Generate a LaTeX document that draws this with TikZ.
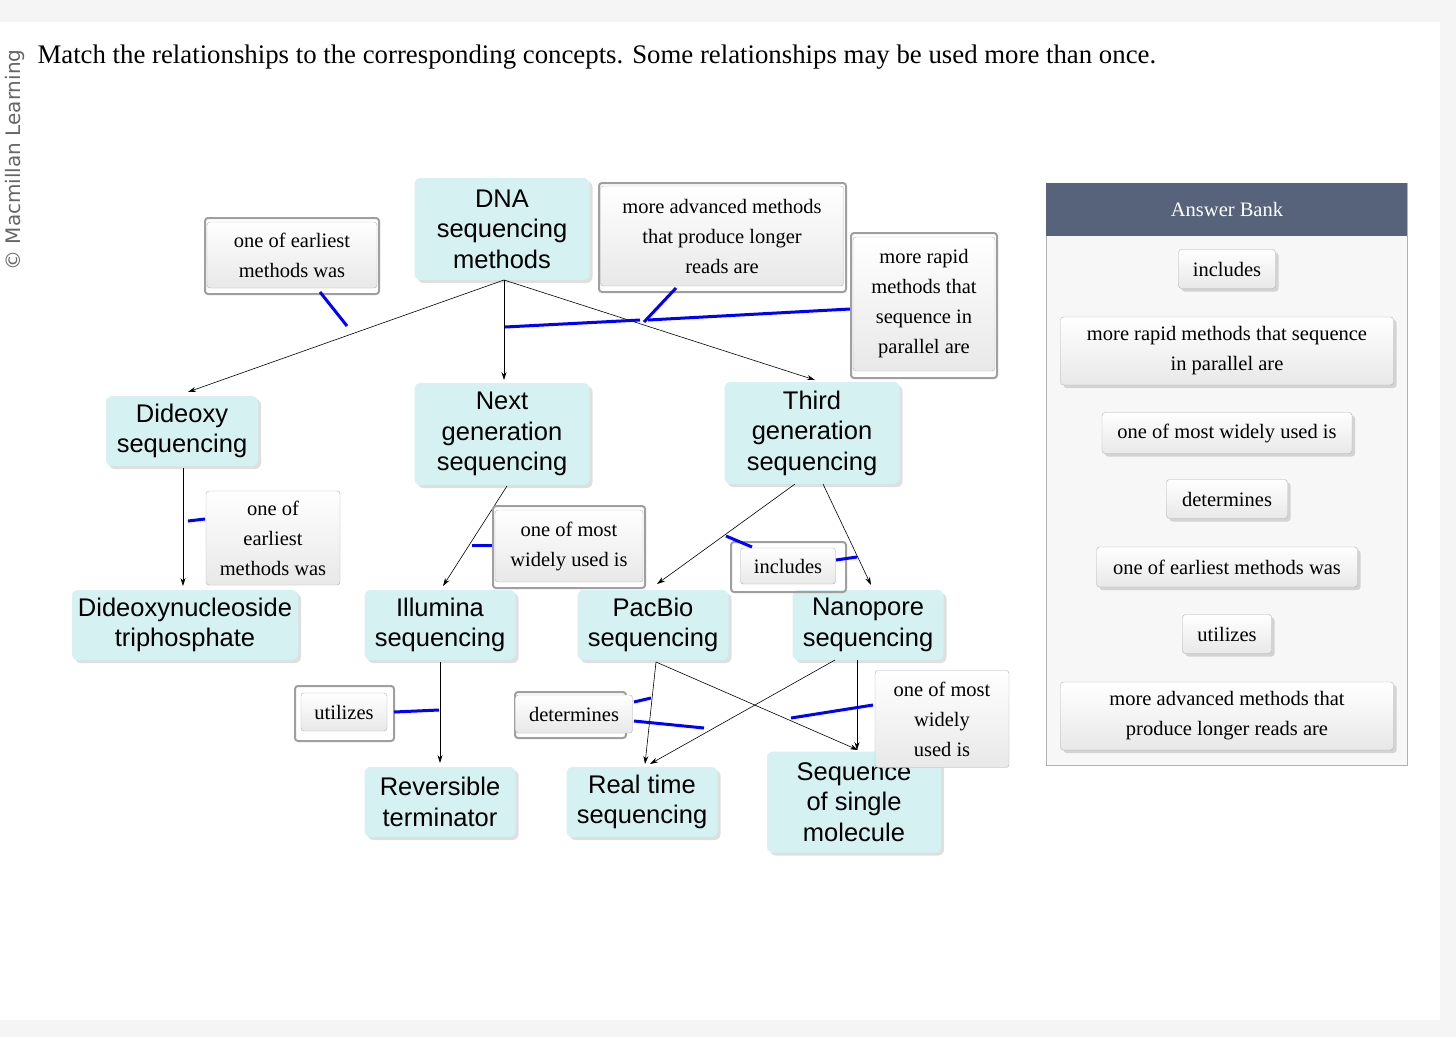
\documentclass[tikz,border=0pt]{standalone}
\usepackage{fontspec}
\setmainfont{Liberation Serif}
\newfontfamily\sansf{Liberation Sans}
\newfontfamily\dejav{DejaVu Sans}
\usetikzlibrary{shadows,arrows.meta}
\definecolor{conc}{HTML}{D5F1F1}
\definecolor{hdr}{HTML}{56637A}
\begin{document}
\begin{tikzpicture}[x=1pt,y=-1pt,
 concept/.style={draw=none,fill=conc,rounded corners=6pt,align=center,font=\sansf\fontsize{25.5}{30.5}\selectfont,drop shadow={shadow xshift=3pt,shadow yshift=-3pt,opacity=0.25},inner sep=0pt},
 lab/.style={draw=gray!60,top color=white,bottom color=gray!18,rounded corners=3pt,align=center,font=\fontsize{20.5}{30}\selectfont,inner sep=0pt},
 frame/.style={draw=gray!75,line width=2pt,rounded corners=3pt},
 bank/.style={lab,drop shadow={shadow xshift=3pt,shadow yshift=-3pt,opacity=0.3,fill=gray}},
 arr/.style={-{Stealth[length=8pt,width=5pt]},line width=0.6pt},
 ans/.style={blue,line width=3pt}]
\useasboundingbox (0,0) rectangle (1456,1037);
\fill[gray!8] (0,0) rectangle (1456,1037);
\fill[white] (0,22) rectangle (1440,1020);
\node[rotate=90,font=\dejav\fontsize{20}{22}\selectfont,text=gray!80!black] (cr) at (15,160) {© Macmillan Learning};
\node[anchor=west,font=\fontsize{26.8}{30}\selectfont] (q) at (34,57) {Match the relationships to the corresponding concepts. Some relationships may be used more than once.};
% concepts
\node[concept,minimum width=175pt,minimum height=102pt] (dna) at (502,229) {DNA\\sequencing\\methods};
\node[concept,minimum width=152pt,minimum height=70pt] (did) at (182,431) {Dideoxy\\sequencing};
\node[concept,minimum width=175pt,minimum height=102pt] (next) at (502,434) {Next\\generation\\sequencing};
\node[concept,minimum width=175pt,minimum height=102pt] (third) at (812,433) {Third\\generation\\sequencing};
\node[concept,minimum width=226pt,minimum height=70pt] (dnt) at (185,625) {Dideoxynucleoside\\triphosphate};
\node[concept,minimum width=151pt,minimum height=70pt] (ill) at (440,625) {Illumina\\sequencing};
\node[concept,minimum width=151pt,minimum height=70pt] (pac) at (653,625) {PacBio\\sequencing};
\node[concept,minimum width=151pt,minimum height=70pt] (nano) at (868,625) {Nanopore\\sequencing};
\node[concept,minimum width=151pt,minimum height=70pt] (rev) at (440,802) {Reversible\\terminator};
\node[concept,minimum width=151pt,minimum height=70pt] (rt) at (642,802) {Real time\\sequencing};
\node[concept,minimum width=174pt,minimum height=101pt] (ssm) at (854,802) {Sequence\\of single\\molecule};
% arrows
\coordinate (d0) at (504,280);
\draw[arr] (d0) -- (188,392) coordinate (e1);
\draw[arr] (d0) -- (504,380) coordinate (e2);
\draw[arr] (d0) -- (815,380) coordinate (e3);
\draw[arr] (183,468) coordinate (e4) -- (183,586) coordinate (e5);
\draw[arr] (507,486) coordinate (e6) -- (443,586) coordinate (e7);
\draw[arr] (795,484) coordinate (e8) -- (657,584) coordinate (e9);
\draw[arr] (823,484) coordinate (e10) -- (871,585) coordinate (e11);
\draw[arr] (440,662) coordinate (e12) -- (440,763) coordinate (e13);
\coordinate (p0) at (656,662);
\draw[arr] (p0) -- (645,764) coordinate (e14);
\draw[arr] (p0) -- (858,750) coordinate (e15);
\draw[arr] (835,660) coordinate (n0) -- (650,764) coordinate (e16);
\draw[arr] (857,660) coordinate (n1) -- (857,750) coordinate (e17);
% label boxes
\draw[frame] (205,218) rectangle (379,294);
\node[lab,minimum width=170pt,minimum height=66pt] (l1) at (292,255) {one of earliest\\methods was};
\draw[frame] (599,183) rectangle (846,292);
\node[lab,minimum width=243pt,minimum height=100pt] (l2) at (722,236) {more advanced methods\\that produce longer\\reads are};
\draw[frame] (851,233) rectangle (997,378);
\node[lab,minimum width=142pt,minimum height=134pt] (l3) at (924,304) {more rapid\\methods that\\sequence in\\parallel are};
\node[lab,minimum width=134pt,minimum height=94pt] (l4) at (273,538) {one of\\earliest\\methods was};
\draw[frame] (493,506) rectangle (645,588);
\node[lab,minimum width=148pt,minimum height=72pt] (l5) at (569,546) {one of most\\widely used is};
\draw[frame] (731,542) rectangle (846,592);
\node[lab,minimum width=95pt,minimum height=36pt] (l6) at (788,566) {includes};
\draw[frame] (295,686) rectangle (394,741);
\node[lab,minimum width=86pt,minimum height=38pt] (l7) at (344,712) {utilizes};
\draw[frame] (515,692) rectangle (626,738);
\node[lab,minimum width=117pt,minimum height=38pt] (l8) at (574,714) {determines};
\node[lab,minimum width=134pt,minimum height=97pt] (l9) at (942,719) {one of most\\widely\\used is};
% answer lines
\draw[ans] (320,292) -- (347,326);
\draw[ans] (505,327) -- (640,320);
\draw[ans] (648,320) -- (850,309);
\draw[ans] (644,322) -- (676,288);
\draw[ans] (188,521) -- (205,519);
\draw[ans] (472,545) -- (492,545);
\draw[ans] (726,536) -- (752,547);
\draw[ans] (836,560) -- (857,557);
\draw[ans] (394,712) -- (439,710);
\draw[ans] (634,702) -- (651,698);
\draw[ans] (634,721) -- (704,728);
\draw[ans] (791,718) -- (873,705);
% answer bank
\draw[gray!60,fill=gray!6] (1046,183) rectangle (1407,765);
\fill[hdr] (1046,183) rectangle (1407,236);
\node[text=white,font=\fontsize{20.5}{22}\selectfont] (ab) at (1227,209) {Answer Bank};
\node[bank,minimum width=97pt,minimum height=39pt] (b1) at (1227,269) {includes};
\node[bank,minimum width=333pt,minimum height=68pt] (b2) at (1227,351) {more rapid methods that sequence\\in parallel are};
\node[bank,minimum width=250pt,minimum height=41pt] (b3) at (1227,433) {one of most widely used is};
\node[bank,minimum width=121pt,minimum height=39pt] (b4) at (1227,499) {determines};
\node[bank,minimum width=261pt,minimum height=40pt] (b5) at (1227,567) {one of earliest methods was};
\node[bank,minimum width=89pt,minimum height=39pt] (b6) at (1227,634) {utilizes};
\node[bank,minimum width=333pt,minimum height=68pt] (b7) at (1227,716) {more advanced methods that\\produce longer reads are};
\end{tikzpicture}
\end{document}
